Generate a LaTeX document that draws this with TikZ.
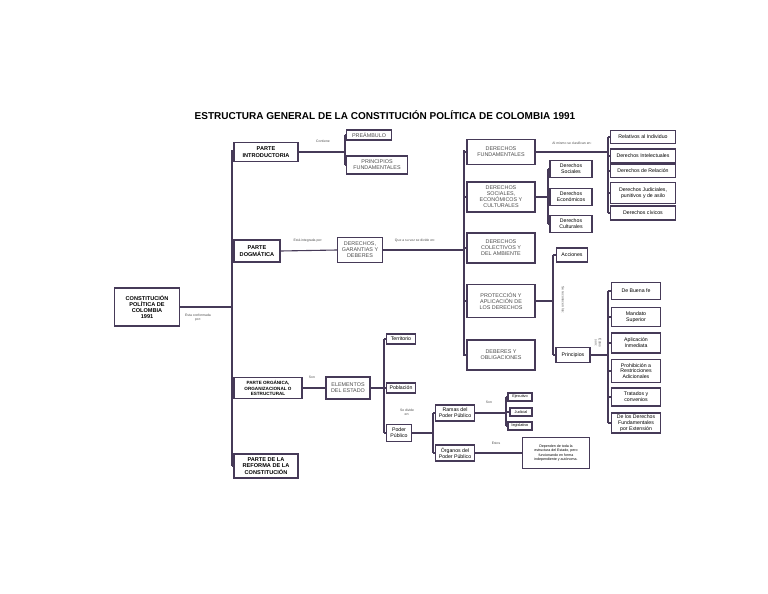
\documentclass[tikz,border=0pt]{standalone}
\usepackage{fontspec}
\setmainfont{Liberation Sans}
\definecolor{lc}{RGB}{70,58,88}
\begin{document}
\begin{tikzpicture}[x=1pt,y=-1pt,
  every node/.style={inner sep=0.5pt,align=center},
  ln/.style={draw=lc,line width=1.1pt},
  b/.style={draw=lc,line width=1.1pt,fill=white,font=\fontsize{5.2}{5.8}\selectfont},
  bb/.style={b,font=\fontsize{5.6}{6.2}\selectfont\bfseries},
  sc/.style={b,font=\fontsize{5.4}{6}\selectfont,text=black!70},
  lab/.style={font=\fontsize{3.4}{4}\selectfont,text=black!70}]
\useasboundingbox (0,0) rectangle (768,594);
\node[font=\fontsize{10}{12}\selectfont\bfseries] (title) at (385,115) {ESTRUCTURA  GENERAL DE LA CONSTITUCIÓN POLÍTICA DE COLOMBIA 1991};
% trunks
\coordinate (t1a) at (232,150); \coordinate (t1b) at (232,466);
\coordinate (t2a) at (464,150); \coordinate (t2b) at (464,356);
\draw[ln] (t1a)--(t1b); \draw[ln] (t2a)--(t2b);
% main
\node[bb,minimum width=65,minimum height=38] (c) at (147,307) {CONSTITUCIÓN\\POLÍTICA DE\\COLOMBIA\\1991};
\draw[ln] (c.east)--(c.east -| t1a);
\node[lab] (l0) at (198,318) {Esta conformada\\por:};
\node[bb,minimum width=64,minimum height=19] (pi) at (266,152) {PARTE\\INTRODUCTORIA};
\node[bb,minimum width=46,minimum height=22] (pd) at (257,251) {PARTE\\DOGMÁTICA};
\node[bb,minimum width=68,minimum height=21,font=\fontsize{4.6}{5.2}\selectfont\bfseries] (po) at (268,388) {PARTE ORGÁNICA,\\ORGANIZACIONAL O\\ESTRUCTURAL};
\node[bb,minimum width=64,minimum height=24] (pr) at (266,466) {PARTE DE LA\\REFORMA DE LA\\CONSTITUCIÓN};
\foreach \n in {pi,pd,po,pr} \draw[ln] (t1a |- \n.west)--(\n.west);
% introductoria
\coordinate (b1a) at (345,135); \coordinate (b1b) at (345,165);
\draw[ln] (b1a)--(b1b); \draw[ln] (pi.east)--(pi.east -| b1a);
\node[lab] at (323,141) {Contiene};
\node[sc,minimum width=45,minimum height=10] (pre) at (369,135) {PREÁMBULO};
\node[sc,minimum width=61,minimum height=18] (pf) at (377,165) {PRINCIPIOS\\FUNDAMENTALES};
\draw[ln] (pre.west)--(b1a |- pre.west); \draw[ln] (pf.west)--(b1b |- pf.west);
% dogmatica
\node[sc,minimum width=45,minimum height=25] (dg) at (360,250) {DERECHOS,\\GARANTIAS Y\\DEBERES};
\draw[ln] (pd.east)--(dg.west); \draw[ln] (dg.east)--(dg.east -| t2a);
\node[lab] at (308,241) {Está integrada por:};
\node[lab] at (415,241) {Que a su vez se divide en:};
\node[sc,minimum width=68,minimum height=25] (df) at (501,152) {DERECHOS\\FUNDAMENTALES};
\node[sc,minimum width=68,minimum height=30] (ds) at (501,197) {DERECHOS\\SOCIALES,\\ECONÓMICOS Y\\CULTURALES};
\node[sc,minimum width=68,minimum height=30] (dc) at (501,248) {DERECHOS\\COLECTIVOS Y\\DEL AMBIENTE};
\node[sc,minimum width=68,minimum height=33] (dp) at (501,301) {PROTECCIÓN Y\\APLICACIÓN DE\\LOS DERECHOS};
\node[sc,minimum width=68,minimum height=30] (dd) at (501,355) {DEBERES Y\\OBLIGACIONES};
\foreach \n in {df,ds,dc,dp,dd} \draw[ln] (t2a |- \n.west)--(\n.west);
% fundamentales
\coordinate (f1) at (608,137); \coordinate (f2) at (608,213);
\draw[ln] (f1)--(f2); \draw[ln] (df.east)--(df.east -| f1);
\node[lab] at (572,143) {Al mismo se clasifican en:};
\node[b,minimum width=65,minimum height=13] (r1) at (643,137) {Relativos al Individuo};
\node[b,minimum width=65,minimum height=14] (r2) at (643,156) {Derechos Intelectuales};
\node[b,minimum width=65,minimum height=13] (r3) at (643,171) {Derechos de Relación};
\node[b,minimum width=65,minimum height=21] (r4) at (643,193) {Derechos Judiciales,\\punitivos y de asilo};
\node[b,minimum width=65,minimum height=14] (r5) at (643,213) {Derechos cívicos};
\foreach \n in {r1,r2,r3,r4,r5} \draw[ln] (f1 |- \n.west)--(\n.west);
% sociales
\coordinate (s1) at (548,169); \coordinate (s2) at (548,224);
\draw[ln] (s1)--(s2); \draw[ln] (ds.east)--(ds.east -| s1);
\node[b,minimum width=42,minimum height=17] (s_a) at (571,169) {Derechos\\Sociales};
\node[b,minimum width=42,minimum height=17] (s_b) at (571,197) {Derechos\\Económicos};
\node[b,minimum width=42,minimum height=17] (s_c) at (571,224) {Derechos\\Culturales};
\foreach \n in {s_a,s_b,s_c} \draw[ln] (s1 |- \n.west)--(\n.west);
% proteccion
\coordinate (p1) at (553,255); \coordinate (p2) at (553,355);
\draw[ln] (p1)--(p2); \draw[ln] (dp.east)--(dp.east -| p1);
\node[lab,rotate=-90] at (563,300) {Se reconocen los:};
\node[b,minimum width=31,minimum height=14] (acc) at (572,255) {Acciones};
\node[b,minimum width=34,minimum height=15] (pri) at (573,355) {Principios};
\draw[ln] (p1)--(acc.west); \draw[ln] (p2)--(pri.west);
\coordinate (q1) at (608,291); \coordinate (q2) at (608,423);
\draw[ln] (q1)--(q2); \draw[ln] (pri.east)--(pri.east -| q1);
\node[lab,rotate=-90] at (598,343) {Estos\\son:};
\node[b,minimum width=49,minimum height=17] (u1) at (636,291) {De Buena fe};
\node[b,minimum width=49,minimum height=19] (u2) at (636,317) {Mandato\\Superior};
\node[b,minimum width=49,minimum height=20] (u3) at (636,343) {Aplicación\\Inmediata};
\node[b,minimum width=49,minimum height=23] (u4) at (636,371) {Prohibición a\\Restricciones\\Adicionales};
\node[b,minimum width=49,minimum height=18] (u5) at (636,397) {Tratados y\\convenios};
\node[b,minimum width=49,minimum height=20] (u6) at (636,423) {De los Derechos\\Fundamentales\\por Extensión};
\foreach \n in {u1,u2,u3,u4,u5,u6} \draw[ln] (q1 |- \n.west)--(\n.west);
% organica
\node[sc,minimum width=44,minimum height=22] (el) at (348,388) {ELEMENTOS\\DEL ESTADO};
\draw[ln] (po.east)--(el.west);
\node[lab] at (312,377) {Son};
\coordinate (e1) at (384,339); \coordinate (e2) at (384,433);
\draw[ln] (e1)--(e2); \draw[ln] (el.east)--(el.east -| e1);
\node[b,minimum width=29,minimum height=10] (ter) at (401,339) {Territorio};
\node[b,minimum width=29,minimum height=10] (pob) at (401,388) {Población};
\node[b,minimum width=25,minimum height=17] (pp) at (399,433) {Poder\\Público};
\foreach \n in {ter,pob,pp} \draw[ln] (e1 |- \n.west)--(\n.west);
\node[lab] at (407,412) {Se divide\\en:};
\coordinate (g1) at (433,413); \coordinate (g2) at (433,453);
\draw[ln] (g1)--(g2); \draw[ln] (pp.east)--(pp.east -| g1);
\node[b,minimum width=39,minimum height=16] (ram) at (455,413) {Ramas del\\Poder Público};
\node[b,minimum width=39,minimum height=16] (org) at (455,453) {Órganos del\\Poder Público};
\draw[ln] (g1)--(ram.west); \draw[ln] (g2)--(org.west);
\node[lab] at (489,402) {Son};
\coordinate (h1) at (506,397); \coordinate (h2) at (506,426);
\draw[ln] (h1)--(h2); \draw[ln] (ram.east)--(ram.east -| h1);
\node[b,minimum width=24,minimum height=8,font=\fontsize{3.8}{4.4}\selectfont] (ej) at (520,397) {Ejecutivo};
\node[b,minimum width=22,minimum height=8,font=\fontsize{3.8}{4.4}\selectfont] (ju) at (521,412) {Judicial};
\node[b,minimum width=24,minimum height=8,font=\fontsize{3.8}{4.4}\selectfont] (le) at (520,426) {legislativo};
\foreach \n in {ej,ju,le} \draw[ln] (h1 |- \n.west)--(\n.west);
\node[lab] at (496,443) {Estos};
\node[b,line width=0.7pt,minimum width=67,minimum height=31,font=\fontsize{3.6}{4.4}\selectfont] (desc) at (556,453) {Dependen de toda la\\estructura del Estado, pero\\funcionando en forma\\independiente y autónoma.};
\draw[ln] (org.east)--(desc.west);
\end{tikzpicture}
\end{document}
